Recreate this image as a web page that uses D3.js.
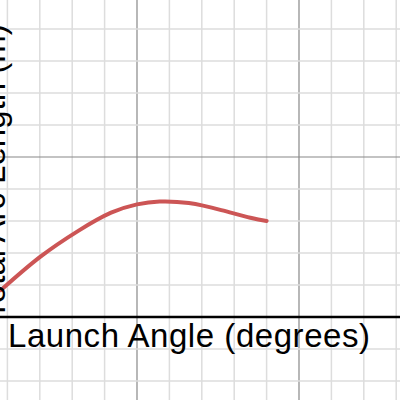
<!DOCTYPE html>
<html><head><meta charset="utf-8">
<script src="https://cdn.jsdelivr.net/npm/d3@7"></script>
<style>body{margin:0;background:#fff}</style></head>
<body><svg id="c" width="400" height="400"></svg>
<script>
const angles = [8,20,32,42,50,57,66,76,85,90];
const arcLength = [8.4,18.7,27,32.6,35.2,36.1,35.6,33.4,31,30];
const xLabel = "Launch Angle (degrees)";
const yLabel = "Total Arc Length (m)";

const svg = d3.select("#c");
const x = d3.scaleLinear().domain([50,100]).range([137,299]);
const y = d3.scaleLinear().domain([0,50]).range([317,157]);
const [x0,x1] = [x.invert(0), x.invert(400)];
const [yLo,yHi] = [y.invert(400), y.invert(0)];
const minorX = d3.range(Math.ceil(x0/10)*10, x1, 10);
const minorY = d3.range(Math.ceil(yLo/10)*10, yHi, 10);
svg.selectAll(".vx").data(minorX).join("line")
  .attr("x1",d=>x(d)).attr("x2",d=>x(d)).attr("y1",0).attr("y2",400)
  .attr("stroke",d=>d%50===0?"#888":"#ddd").attr("stroke-width",d=>d%50===0?1.2:1.5);
svg.selectAll(".hy").data(minorY).join("line")
  .attr("y1",d=>y(d)).attr("y2",d=>y(d)).attr("x1",0).attr("x2",400)
  .attr("stroke",d=>d===0?"#000":(d%50===0?"#888":"#ddd"))
  .attr("stroke-width",d=>d===0?2.5:(d%50===0?1.2:1.5));
svg.append("path").datum(angles.map((a,i)=>[a,arcLength[i]]))
  .attr("d",d3.line().x(d=>x(d[0])).y(d=>y(d[1])).curve(d3.curveNatural))
  .attr("fill","none").attr("stroke","#cc5555").attr("stroke-width",4).attr("stroke-linecap","round");
svg.append("text").attr("x",8).attr("y",347).attr("font-family","Liberation Sans, Arial")
  .attr("font-size",33).attr("textLength",362).attr("fill","#000").text(xLabel);
svg.append("text").attr("transform","translate(5,172) rotate(-90)").attr("text-anchor","middle")
  .attr("font-family","Liberation Sans, Arial").attr("font-size",33).attr("fill","#000").text(yLabel);
</script></body></html>
